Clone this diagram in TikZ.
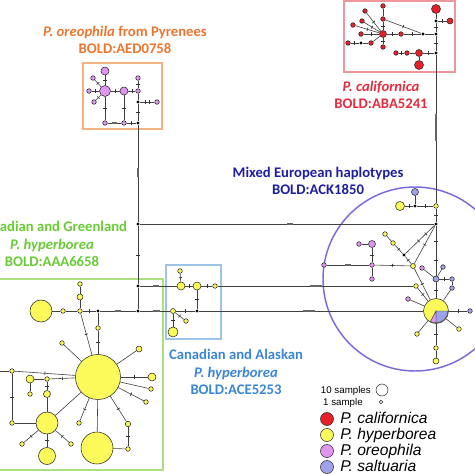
\documentclass[tikz,border=0pt]{standalone}
\usepackage{fontspec}
\setmainfont{Carlito}
\newfontfamily\arialfont{Liberation Sans}
\usepackage{tikz}
\usetikzlibrary{decorations.markings}

\definecolor{oreTxt}{RGB}{234,118,48}
\definecolor{oreBox}{RGB}{244,178,132}
\definecolor{calTxt}{RGB}{228,44,62}
\definecolor{calBox}{RGB}{240,150,156}
\definecolor{eurTxt}{RGB}{30,30,160}
\definecolor{eurRing}{RGB}{122,106,224}
\definecolor{grnTxt}{RGB}{104,204,52}
\definecolor{grnBox}{RGB}{170,224,128}
\definecolor{alaTxt}{RGB}{58,134,214}
\definecolor{alaBox}{RGB}{157,195,230}
\definecolor{calFill}{RGB}{232,32,42}
\definecolor{hypFill}{RGB}{252,250,90}
\definecolor{oreFill}{RGB}{224,150,240}
\definecolor{salFill}{RGB}{158,162,234}

\begin{document}
\begin{tikzpicture}[x=0.75pt,y=0.75pt,yscale=-1,xscale=1,
    hap/.style={circle,draw=black!85,line width=0.4pt,inner sep=0pt,minimum size=#1*1.5pt},
    hap/.default=2.3,
    cal/.style={fill=calFill},
    hyp/.style={fill=hypFill},
    ore/.style={fill=oreFill},
    sal/.style={fill=salFill},
    mv/.style={circle,fill=black,inner sep=0pt,minimum size=2.6pt},
    link/.style={draw=black!75,line width=0.45pt},
    mtick/.style={postaction={decorate,decoration={markings,mark=at position #1 with {\draw[black!80,line width=0.5pt] (0,-1.3pt) -- (0,1.3pt);}}}},
    mtick/.default=0.5,
    mblock/.style 2 args={postaction={decorate,decoration={markings,mark=at position #1 with {\fill[black!60] (-#2,-1pt) rectangle (#2,1pt);}}}},
    grpLbl/.style={font=\bfseries\fontsize{11}{13}\selectfont,align=center,inner sep=0pt},
    keyLbl/.style={anchor=base west,inner sep=0pt,font=\arialfont\itshape\fontsize{11.7}{13}\selectfont},
    sizeLbl/.style={anchor=base east,inner sep=0pt,font=\arialfont\fontsize{7.3}{8}\selectfont}
  ]
\useasboundingbox (0,0) rectangle (474,474);

%Shape: Rectangle
\draw [oreBox,line width=1.1pt] (83,63) rectangle (162,129);
\draw [calBox,line width=1.1pt] (344,1) rectangle (455,72);
\draw [grnBox,line width=1.1pt] (-2,279) rectangle (163,470);
\draw [alaBox,line width=1.1pt] (166,265) rectangle (221,339);
%Shape: Circle
\draw [eurRing,line width=1.1pt] (415,279) circle [radius=69pt];

% P. oreophila
\node[hap=5.5,ore] (o1) at (105,91) {};
\node[hap=4,ore] (o2) at (105,71) {};
\node[hap=4,ore] (o3) at (124,91) {};
\node[hap,ore] (o4) at (93,78) {};
\node[hap,ore] (o5) at (89,91) {};
\node[hap,ore] (o6) at (94,102) {};
\node[hap,ore] (o7) at (138,78) {};
\node[hap,ore] (o8) at (138,91) {};
\node[mv] (om1) at (138,102) {};
\node[hap,ore] (o9) at (157,102) {};
\node[hap,ore] (o10) at (105,123) {};
\node[hap,ore] (o11) at (124,123) {};
\node[mv] (om2) at (138,123) {};

% P. californica
\node[hap=4.5,cal] (c1) at (436,9) {};
\node[mv] (cm1) at (436,21) {};
\node[hap=3,cal] (c2) at (450,21) {};
\node[mv] (cm2) at (436,34) {};
\node[mv] (cm3) at (436,53) {};
\node[hap=3.5,cal] (c3) at (383,34) {};
\node[hap,cal] (c4) at (383,6) {};
\node[hap,cal] (c5) at (383,19) {};
\node[hap,cal] (c6) at (383,47) {};
\node[hap,cal] (c7) at (365,11) {};
\node[hap,cal] (c8) at (353,25) {};
\node[hap,cal] (c9) at (362,21) {};
\node[hap,cal] (c10) at (361,34) {};
\node[hap,cal] (c11) at (371,43) {};
\node[mv] (cm4) at (361,43) {};
\node[hap,cal] (c12) at (348,43) {};
\node[hap,cal] (c13) at (401,34) {};
\node[mv] (cm5) at (423,34) {};
\node[hap,cal] (c14) at (396,53) {};
\node[hap,cal] (c15) at (407,53) {};
\node[hap=3.5,cal] (c16) at (419,53) {};
\node[hap=4.5,cal] (c17) at (419,65) {};

% Mixed European
\node[hap=3.5,sal] (e1) at (415,192) {};
\node[hap=4.5,hyp] (e2) at (400,206) {};
\node[mv] (em1) at (415,206) {};
\node[hap,hyp] (e3) at (436,206) {};
\node[mv] (em2) at (436,224) {};
\node[mv] (em3) at (404,255) {};
\node[hap,hyp] (e4) at (385,234) {};
\node[hap,hyp] (e5) at (393,243) {};
\node[hap=2.5,hyp] (e6) at (413,266) {};
\node[hap=3,sal] (e7) at (436,279) {};
\node[hap,ore] (e8) at (422,268) {};
\node[hap,sal] (e9) at (443,267) {};
\node[hap,sal] (e10) at (452,279) {};
\node[hap,sal] (e11) at (452,288) {};
\node[hap=12.5,hyp] (e12) at (436,311) {};
\fill[salFill,draw=black!85,line width=0.3pt] (e12.center) -- ++(0:8.9pt) arc[start angle=0,end angle=90,radius=8.9pt] -- cycle;
\fill[oreFill,draw=black!85,line width=0.3pt] (e12.center) -- ++(90:8.9pt) arc[start angle=90,end angle=118,radius=8.9pt] -- cycle;
\node[hap,hyp] (e13) at (416,286) {};
\node[hap,ore] (e14) at (408,299) {};
\node[hap,sal] (e15) at (470,311) {};
\node[hap,hyp] (e16) at (459,329) {};
\node[hap,hyp] (e17) at (417,334) {};
\node[hap,hyp] (e18) at (436,348) {};
\node[hap=3,hyp] (e19) at (436,361) {};
\node[hap=3.5,ore] (e20) at (372,244) {};
\node[hap,ore] (e21) at (359,244) {};
\node[hap,ore] (e22) at (372,265) {};
\node[hap,ore] (e23) at (372,279) {};
\node[hap,ore] (e24) at (324,265) {};

% Canadian and Alaskan
\node[mv] (j1) at (138,224) {};
\node[mv] (j2) at (138,286) {};
\node[mv] (j3) at (138,311) {};
\node[hap,hyp] (a1) at (180,271) {};
\node[hap=4,hyp] (a2) at (181,286) {};
\node[hap=4,hyp] (a3) at (197,286) {};
\node[hap,hyp] (a4) at (215,286) {};
\node[hap=2.5,hyp] (a5) at (173,311) {};
\node[mv] (am1) at (197,311) {};
\node[hap,hyp] (a6) at (186,321) {};
\node[hap=5,hyp] (a7) at (173,332) {};

% Canadian and Greenland
\node[hap,hyp] (g1) at (80,284) {};
\node[hap=3,hyp] (g2) at (80,297) {};
\node[hap,hyp] (g3) at (80,311) {};
\node[hap=11,hyp] (g4) at (41,311) {};
\node[hap,hyp] (g5) at (63,311) {};
\node[mv] (gm1) at (98,311) {};
\node[hap,hyp] (g6) at (98,328) {};
\node[hap=22.5,hyp] (g7) at (98,377) {};
\node[hap,hyp] (g8) at (62,343) {};
\node[hap=3,hyp] (g9) at (139,349) {};
\node[hap=4,hyp] (g10) at (152,377) {};
\node[hap,hyp] (g11) at (151,389) {};
\node[hap,hyp] (g12) at (146,402) {};
\node[hap,hyp] (g13) at (12,371) {};
\node[hap,hyp] (g14) at (12,423) {};
\node[hap=4,hyp] (g15) at (30,379) {};
\node[hap,hyp] (g16) at (47,379) {};
\node[hap,hyp] (g17) at (30,394) {};
\node[hap=3.5,hyp] (g18) at (47,394) {};
\node[hap=11,hyp] (g19) at (47,423) {};
\node[hap,hyp] (g20) at (22,444) {};
\node[hap,hyp] (g21) at (71,444) {};
\node[hap=8.5,hyp] (g22) at (47,456) {};
\node[hap,hyp] (g23) at (79,423) {};
\node[hap=16,hyp] (g24) at (97,448) {};
\node[hap=2.7,hyp] (g25) at (128,424) {};
\node[hap,hyp] (g26) at (128,449) {};
\coordinate (gx) at (-6,371);

%Straight Lines
\draw[link,mtick] (o2) -- (o1);
\draw[link,mtick] (o1) -- (o3);
\draw[link,mtick] (o3) -- (o8);
\draw[link,mtick] (o7) -- (o8);
\draw[link] (o8) -- (om1);
\draw[link,mtick=0.35,mtick=0.65] (om1) -- (o9);
\draw[link,mtick] (om1) -- (om2);
\draw[link,mtick] (o1) -- (o10);
\draw[link,mtick] (o3) -- (o11);
\draw[link,mblock={0.5}{2pt}] (o10) -- (o11);
\draw[link,mtick] (o11) -- (om2);
\draw[link,mtick] (o4) -- (o1);
\draw[link,mtick] (o5) -- (o1);
\draw[link,mtick] (o6) -- (o1);
\draw[link,mblock={0.49}{3.4pt}] (om2) -- (j1);

\draw[link] (c1) -- (cm1);
\draw[link,mtick] (cm1) -- (c2);
\draw[link,mtick] (cm1) -- (cm2);
\draw[link,mtick] (cm2) -- (cm3);
\draw[link] (cm5) -- (cm2);
\draw[link,mtick] (c13) -- (cm5);
\draw[link,mtick] (c3) -- (c13);
\draw[link,mtick] (c5) -- (cm5);
\draw[link] (c4) -- (c5);
\draw[link,mtick] (c5) -- (c3);
\draw[link,mtick] (c3) -- (c6);
\draw[link,mtick] (c10) -- (c3);
\draw[link,mtick] (c7) -- (c3);
\draw[link,mtick] (c8) -- (c3);
\draw[link,mtick] (c9) -- (c3);
\draw[link] (c11) -- (c3);
\draw[link] (cm4) -- (c11);
\draw[link,mtick] (c12) -- (cm4);
\draw[link,mtick] (c14) -- (c15);
\draw[link] (c15) -- (c16);
\draw[link,mtick] (c16) -- (cm3);
\draw[link] (c16) -- (c17);
\draw[link,mblock={0.49}{10pt}] (cm3) -- (e3);

\draw[link] (e1) -- (em1);
\draw[link,mtick] (e2) -- (em1);
\draw[link,mtick] (em1) -- (e3);
\draw[link,mtick] (e3) -- (em2);
\draw[link,mtick=0.3,mtick=0.55] (em2) -- (em3);
\draw[link,mtick] (em2) -- (e6);
\draw[link,mtick=0.3,mtick=0.7] (em2) -- (e7);
\draw[link] (e4) -- (e5);
\draw[link,mtick] (e5) -- (em3);
\draw[link,mtick] (em3) -- (e6);
\draw[link,mtick] (e6) -- (e12);
\draw[link] (e8) -- (e7);
\draw[link] (e9) -- (e7);
\draw[link,mtick] (e7) -- (e10);
\draw[link] (e10) -- (e11);
\draw[link] (e11) -- (e12);
\draw[link,mtick] (e7) -- (e12);
\draw[link,mtick] (e13) -- (e12);
\draw[link] (e14) -- (e12);
\draw[link,mtick] (e15) -- (e12);
\draw[link] (e16) -- (e12);
\draw[link] (e17) -- (e12);
\draw[link,mtick] (e12) -- (e18);
\draw[link] (e18) -- (e19);
\draw[link] (e21) -- (e20);
\draw[link,mtick] (e20) -- (e22);
\draw[link] (e22) -- (e23);
\draw[link,mblock={0.5}{2pt}] (e24) -- (e22);
\draw[link,mtick] (e22) -- (e6);

\draw[link,mblock={0.51}{2pt}] (j1) -- (em2);
\draw[link,mtick] (j1) -- (j2);
\draw[link] (j2) -- (j3);
\draw[link,mblock={0.44}{2.5pt}] (j2) -- (a2);
\draw[link,mtick] (a1) -- (a2);
\draw[link,mtick] (a2) -- (a3);
\draw[link,mtick] (a3) -- (a4);
\draw[link,mblock={0.5}{4.5pt}] (a4) -- (e13);
\draw[link,mtick] (a3) -- (am1);
\draw[link,mblock={0.54}{2.5pt}] (j3) -- (a5);
\draw[link,mtick] (a5) -- (am1);
\draw[link,mblock={0.49}{4.5pt}] (am1) -- (e12);
\draw[link,mtick] (a5) -- (a6);
\draw[link,mtick] (a5) -- (a7);

\draw[link] (g1) -- (g2);
\draw[link] (g2) -- (g3);
\draw[link] (g4) -- (g5);
\draw[link] (g5) -- (g3);
\draw[link,mtick] (g3) -- (gm1);
\draw[link,mblock={0.5}{2.5pt}] (gm1) -- (j3);
\draw[link] (gm1) -- (g6);
\draw[link,mtick] (g6) -- (g7);
\draw[link,mtick] (g3) -- (g7);
\draw[link] (g8) -- (g7);
\draw[link] (g9) -- (g7);
\draw[link,mtick] (g10) -- (g7);
\draw[link] (g11) -- (g7);
\draw[link,mtick] (g12) -- (g7);
\draw[link,mtick] (g13) -- (g7);
\draw[link] (gx) -- (g13);
\draw[link,mtick] (g13) -- (g14);
\draw[link] (g14) -- (g19);
\draw[link] (g15) -- (g16);
\draw[link,mtick] (g16) -- (g7);
\draw[link] (g15) -- (g17);
\draw[link,mtick] (g16) -- (g18);
\draw[link] (g18) -- (g19);
\draw[link] (g19) -- (g7);
\draw[link,mtick] (g20) -- (g19);
\draw[link,mtick] (g21) -- (g19);
\draw[link,mtick] (g22) -- (g19);
\draw[link,mtick] (g23) -- (g7);
\draw[link] (g24) -- (g7);
\draw[link,mtick] (g25) -- (g7);
\draw[link,mtick] (g25) -- (g26);
\draw[link] (g26) -- (g24);

% Text Node
\draw (125,40) node (oreLbl) [grpLbl,text=oreTxt] {\textit{P. oreophila} from Pyrenees\\BOLD:AED0758};
% Text Node
\draw (381,95) node (calLbl) [grpLbl,text=calTxt] {\textit{P. californica}\\BOLD:ABA5241};
% Text Node
\draw (318,181) node (eurLbl) [grpLbl,text=eurTxt] {Mixed European haplotypes\\BOLD:ACK1850};
% Text Node
\draw (52,244) node (grnLbl) [grpLbl,text=grnTxt] {Canadian and Greenland\\\textit{P. hyperborea}\\BOLD:AAA6658};
% Text Node
\draw (236,372) node (alaLbl) [grpLbl,text=alaTxt] {Canadian and Alaskan\\\textit{P. hyperborea}\\BOLD:ACE5253};

% Legend
\draw (371,393.5) node (tenLbl) [sizeLbl] {10 samples};
\node[hap=6,fill=white] (tenKey) at (382,390) {};
\draw (363,405) node (oneLbl) [sizeLbl] {1 sample};
\node[hap=1.8,fill=white] (oneKey) at (381,402) {};
\node[hap=6.5,cal] (calKey) at (327,419) {};
\node[hap=6.5,hyp] (hypKey) at (327,435) {};
\node[hap=6.5,ore] (oreKey) at (327,451) {};
\node[hap=6.5,sal] (salKey) at (327,467) {};
\draw (340,423.5) node (calKeyLbl) [keyLbl] {P. californica};
\draw (340,439.5) node (hypKeyLbl) [keyLbl] {P. hyperborea};
\draw (340,455.5) node (oreKeyLbl) [keyLbl] {P. oreophila};
\draw (340,471.5) node (salKeyLbl) [keyLbl] {P. saltuaria};
\end{tikzpicture}
\end{document}
